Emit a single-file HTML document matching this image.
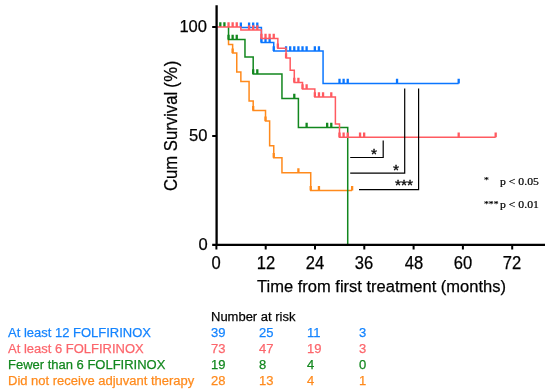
<!DOCTYPE html>
<html><head><meta charset="utf-8"><style>
html,body{margin:0;padding:0;background:#fff}
body{width:550px;height:392px;position:relative;overflow:hidden;font-family:"Liberation Sans",Arial,sans-serif;color:#000}
.t{position:absolute;white-space:nowrap;line-height:1;-webkit-text-stroke:0.25px currentColor}
.yl{font-size:17.4px;right:342.6px;text-align:right;transform:scaleX(0.951);transform-origin:100% 50%}
.xl{font-size:17.5px;transform:translateX(-50%) scaleX(0.946)}
.b{color:#1484ff}.r{color:#fc666c}.g{color:#12871e}.o{color:#ff8a1c}
.n{font-size:13.7px;transform:scaleX(0.949);transform-origin:0 50%}
.s{font-family:"Liberation Serif",serif;font-size:11.2px;-webkit-text-stroke:0.2px #000;transform:scaleX(1.05);transform-origin:0 50%}
.s2{font-size:9.2px}
.a{font-size:14.3px;transform:scaleX(1.085);transform-origin:0 50%;-webkit-text-stroke:0.3px #000}
</style></head><body>
<svg width="550" height="392" viewBox="0 0 550 392" style="position:absolute;left:0;top:0">
<g fill="none" stroke-linejoin="miter" stroke-linecap="butt">
<path d="M228.53,39H228.53V44.5H232.64V53H236.75V72H240.86V81.5H249.08V101H253.19V110.5H265.52V121H269.63V145.7H273.74V157.7H281.96V172.8H310.73V190.6H352.12" stroke="#ff8a1c" stroke-width="1.5"/>
<path d="M232.64,53v-4.6M253.19,110.5v-4.6M265.52,121v-4.6M273.74,157.7v-4.6M298.4,172.8v-4.6M310.73,190.6v-4.6M318.95,190.6v-4.6M352.12,190.6v-4.6" stroke="#ff8a1c" stroke-width="2.3"/>
<path d="M228.53,26.3H228.53V39.6H244.97V57H253.19V74.1H281.96V98.5H298.4V127.5H347.72V244.7" stroke="#12871e" stroke-width="1.5"/>
<path d="M220.31,27v-4.8M224.42,27v-4.8M228.53,39.6v-4.8M232.64,39.6v-4.8M236.75,39.6v-4.8M253.19,74.1v-4.8M257.3,74.1v-4.8M294.29,98.5v-4.8M306.62,127.5v-4.8M327.17,127.5v-4.8M331.28,127.5v-4.8" stroke="#12871e" stroke-width="2.3"/>
<path d="M240.04,27.4H261.41V42.5H273.74V51.1H323.06V83.6H458.69" stroke="#0a76ff" stroke-width="1.5"/>
<path d="M240.86,27.4v-4.8M249.08,27.4v-4.8M253.19,27.4v-4.8M257.3,27.4v-4.8M261.41,42.5v-4.8M265.52,42.5v-4.8M269.63,42.5v-4.8M273.74,51.1v-4.8M286.07,51.1v-4.8M290.18,51.1v-4.8M294.29,51.1v-4.8M298.4,51.1v-4.8M302.51,51.1v-4.8M306.62,51.1v-4.8M314.84,51.1v-4.8M318.95,51.1v-4.8M339.5,83.6v-4.8M343.61,83.6v-4.8M347.72,83.6v-4.8M397.04,83.6v-4.8M458.69,83.6v-4.8" stroke="#0a76ff" stroke-width="2.3"/>
<path d="M216.2,27H240.86V30H261.41V38.5H277.85V48.2H286.07V58H290.18V70.3H294.29V82.5H302.51V89H314.84V97H335.39V124H339.5V137.3H495.68" stroke="#ff5a60" stroke-width="1.5"/>
<path d="M228.53,27v-4.8M232.64,27v-4.8M236.75,27v-4.8M249.08,30v-4.8M253.19,30v-4.8M257.3,30v-4.8M261.41,38.5v-4.8M265.52,38.5v-4.8M269.63,38.5v-4.8M273.74,38.5v-4.8M277.85,48.2v-4.8M286.07,58v-4.8M294.29,82.5v-4.8M298.4,82.5v-4.8M302.51,89v-4.8M306.62,89v-4.8M314.84,97v-4.8M318.95,97v-4.8M323.06,97v-4.8M331.28,97v-4.8M339.5,137.3v-4.8M343.61,137.3v-4.8M347.72,137.3v-4.8M360.05,137.3v-4.8M364.16,137.3v-4.8M458.69,137.3v-4.8M495.68,137.3v-4.8" stroke="#ff5a60" stroke-width="2.3"/>
<!-- brackets -->
<path d="M350.2,157.5H383.2V140.6M350.2,173.1H404.7V88.4M359,189.7H418.6V88.4" stroke="#000" stroke-width="1.2"/>
<!-- axes -->
<path d="M216.6,5.2V246M212.2,244.9H545" stroke="#000" stroke-width="2.3"/>
<path d="M212.2,27H216M212.2,136H216" stroke="#000" stroke-width="2.2"/>
<path d="M216.4,245V249.4M265.7,245V249.4M315,245V249.4M364.3,245V249.4M413.6,245V249.4M462.9,245V249.4M512.2,245V249.4" stroke="#000" stroke-width="2"/>
</g>
</svg>
<div class="t yl" style="top:18.45px">100</div>
<div class="t yl" style="top:127.45px">50</div>
<div class="t yl" style="top:236.35px;right:342.1px">0</div>
<div class="t xl" style="left:216.4px;top:255.4px">0</div>
<div class="t xl" style="left:265.7px;top:255.4px">12</div>
<div class="t xl" style="left:315px;top:255.4px">24</div>
<div class="t xl" style="left:364.3px;top:255.4px">36</div>
<div class="t xl" style="left:413.6px;top:255.4px">48</div>
<div class="t xl" style="left:462.9px;top:255.4px">60</div>
<div class="t xl" style="left:512.2px;top:255.4px">72</div>
<div class="t" id="xt" style="left:256.9px;top:278px;font-size:17.2px;transform:scaleX(0.961);transform-origin:0 50%">Time from first treatment (months)</div>
<div class="t" id="yt" style="left:163.2px;top:191.45px;font-size:17.6px;transform-origin:0 0;transform:rotate(-90deg) scaleX(0.948)">Cum Survival <span style="letter-spacing:0.6px;margin-left:-0.6px">(%)</span></div>
<div class="t a" style="left:371.4px;top:146.8px">*</div>
<div class="t a" style="left:393px;top:162.8px">*</div>
<div class="t a" style="left:394.9px;top:177.8px">***</div>
<div class="t s s2" style="left:483.5px;top:176px">*</div>
<div class="t s" style="left:500px;top:176.2px">p &lt; 0.05</div>
<div class="t s s2" style="left:483.5px;top:199.7px">***</div>
<div class="t s" style="left:500px;top:199.2px">p &lt; 0.01</div>
<div class="t n" id="nar" style="left:211px;top:309.6px">Number at risk</div>
<div class="t n b" id="l1" style="left:8px;top:325.5px">At least 12 FOLFIRINOX</div>
<div class="t n r" style="left:8px;top:341.6px">At least 6 FOLFIRINOX</div>
<div class="t n g" style="left:8px;top:357.8px">Fewer than 6 FOLFIRINOX</div>
<div class="t n o" id="l4" style="left:8px;top:373.9px">Did not receive adjuvant therapy</div>
<div class="t n b" style="left:211px;top:325.5px">39</div>
<div class="t n b" style="left:258.5px;top:325.5px">25</div>
<div class="t n b" style="left:306.5px;top:325.5px">11</div>
<div class="t n b" style="left:359px;top:325.5px">3</div>
<div class="t n r" style="left:211px;top:341.6px">73</div>
<div class="t n r" style="left:258.5px;top:341.6px">47</div>
<div class="t n r" style="left:306.5px;top:341.6px">19</div>
<div class="t n r" style="left:359px;top:341.6px">3</div>
<div class="t n g" style="left:211px;top:357.8px">19</div>
<div class="t n g" style="left:258.5px;top:357.8px">8</div>
<div class="t n g" style="left:306.5px;top:357.8px">4</div>
<div class="t n g" style="left:359px;top:357.8px">0</div>
<div class="t n o" style="left:211px;top:373.9px">28</div>
<div class="t n o" style="left:258.5px;top:373.9px">13</div>
<div class="t n o" style="left:306.5px;top:373.9px">4</div>
<div class="t n o" style="left:359px;top:373.9px">1</div>
</body></html>
